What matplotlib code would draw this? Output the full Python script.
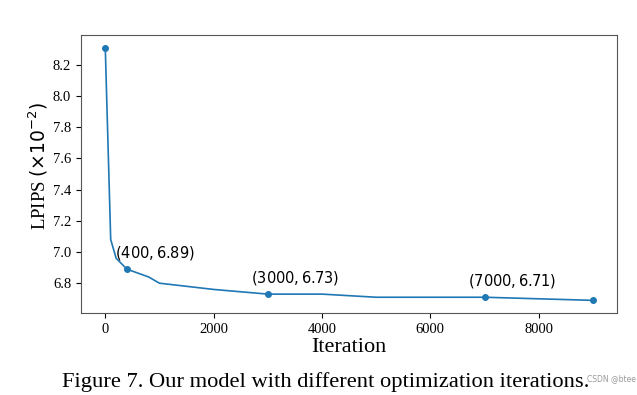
import matplotlib
matplotlib.use("Agg")
import matplotlib.pyplot as plt

# LPIPS (x1e-2) vs optimization iterations
iters = [0, 100, 200, 400, 800, 1000, 2000, 3000, 4000, 5000, 6000, 7000, 8000, 9000]
lpips = [8.31, 7.08, 6.96, 6.89, 6.84, 6.80, 6.76, 6.73, 6.73, 6.71, 6.71, 6.71, 6.70, 6.69]

marked_x = [0, 400, 3000, 7000, 9000]
marked_y = [8.31, 6.89, 6.73, 6.71, 6.69]
notes_x = [400, 3000, 7000]
notes_y = [6.89, 6.73, 6.71]

plt.rcParams['font.family'] = ['Liberation Serif', 'DejaVu Serif']
plt.rcParams['mathtext.fontset'] = 'dejavusans'

fig = plt.figure(figsize=(6.37, 3.95), dpi=100)
ax = fig.add_axes([0.127, 0.208, 0.842, 0.703])

ax.plot(iters, lpips, color='#1f77b4', lw=1.2)
ax.scatter(marked_x, marked_y, color='#1f77b4', s=16, zorder=3)

for x, y in zip(notes_x, notes_y):
    ax.annotate(r'$(%d, %.2f)$' % (x, y), (x, y), xytext=(20, 5),
                textcoords='offset points', ha='center', va='bottom',
                fontsize=10.5, family='DejaVu Sans')

ax.set_xlim(-450, 9450)
ax.set_ylim(6.61, 8.39)
ax.set_xticks([0, 2000, 4000, 6000, 8000])
ax.set_yticks([6.8, 7.0, 7.2, 7.4, 7.6, 7.8, 8.0, 8.2])
ax.tick_params(labelsize=10.5)
for s in ax.spines.values():
    s.set_color('#555555')

ax.set_xlabel('Iteration', fontsize=16, labelpad=2)
ax.set_ylabel(r'LPIPS $(\times 10^{-2})$', fontsize=13.5)
ax.yaxis.set_label_coords(-0.057, 0.53)

fig.text(0.512, 0.02, 'Figure 7. Our model with different optimization iterations.',
         ha='center', va='baseline', fontsize=16.2)
fig.text(0.998, 0.03, 'CSDN @btee', ha='right', va='bottom', fontsize=5.5,
         color='#999999', family='DejaVu Sans')

fig.savefig('out.png', dpi=100)
